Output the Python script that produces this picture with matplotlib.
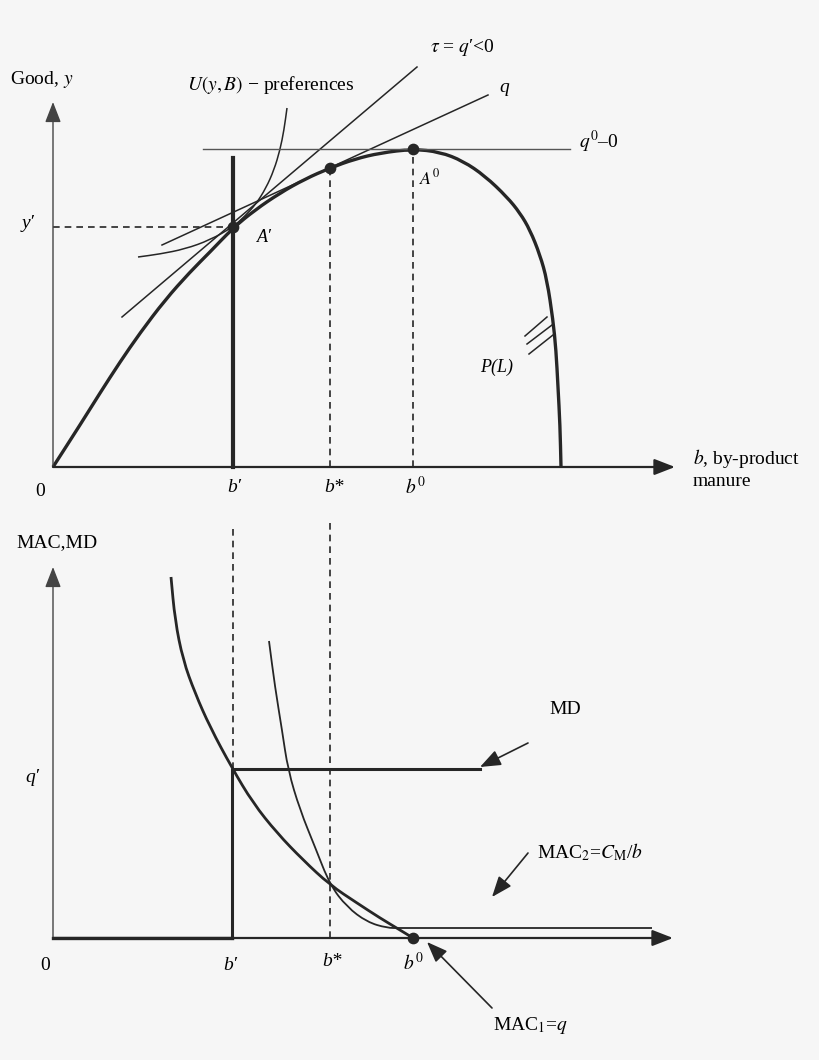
import matplotlib
matplotlib.use("Agg")
import matplotlib.pyplot as plt
from matplotlib.path import Path
from matplotlib.patches import PathPatch

plt.rcParams["font.family"] = ["Liberation Serif", "DejaVu Serif"]
plt.rcParams["mathtext.fontset"] = "stix"

INK = "#262626"
BG = "#f6f6f6"

# ---- top panel: production frontier P(L) (b = by-product, y = good) ----
pl_b = [0, 27, 47, 67, 87, 112, 137, 157, 180, 202, 227, 252, 277, 302, 327, 360,
        387, 410, 432, 454, 467, 477, 487, 494, 500, 503, 505, 507, 508]
pl_y = [0, 42, 74, 105, 134, 167, 195, 215, 239, 257, 274, 288, 299, 308, 314, 318,
        315, 306, 291, 270, 254, 237, 212, 187, 147, 117, 80, 42, 0]

# indifference curve U(y,B)
u_b = [85, 107, 132, 157, 180, 192, 203, 213, 221, 227, 231, 234]
u_y = [210, 213, 218, 227, 240, 251, 263, 279, 297, 317, 337, 359]

# price lines
tau_b, tau_y = [69, 364], [150, 400]
q_b, q_y = [109, 435], [222, 372]
q0_b, q0_y = [150, 517], [318, 318]

# points A', b*, A0
pts_b = [180, 277, 360]
pts_y = [240, 299, 318]

# ---- bottom panel: marginal abatement cost / marginal damage ----
mac1_b = [118, 122, 130, 142, 157, 179, 200, 224, 250, 277, 304, 327, 347, 360]
mac1_y = [361, 318, 278, 245, 211, 170, 135, 105, 78, 53, 35, 20, 8, 0]
mac2_b = [216, 222, 229, 235, 247, 262, 277, 294, 314, 334, 347, 599]
mac2_y = [297, 251, 208, 168, 128, 91, 53, 31, 16, 10, 10, 10]
md_b = [179, 179, 427]
md_y = [0, 169, 169]
q_prime = 169


def smooth(ax, xs, ys, **kw):
    # quadratic B-spline through the read points, drawn as a path
    pts = list(zip(xs, ys))
    verts = [pts[0]]
    codes = [Path.MOVETO]
    mids = [((a[0] + b[0]) / 2, (a[1] + b[1]) / 2) for a, b in zip(pts[:-1], pts[1:])]
    verts.append(mids[0])
    codes.append(Path.LINETO)
    for i in range(1, len(pts) - 1):
        verts += [pts[i], mids[i]]
        codes += [Path.CURVE3, Path.CURVE3]
    verts.append(pts[-1])
    codes.append(Path.LINETO)
    ax.add_patch(PathPatch(Path(verts, codes), facecolor="none", edgecolor=INK,
                           capstyle="butt", joinstyle="round", **kw))


fig = plt.figure(figsize=(8.2, 10.6), dpi=100)
fig.patch.set_facecolor(BG)

top = fig.add_axes([0, 1 - 510 / 1060, 1, 510 / 1060])
bot = fig.add_axes([0, 0, 1, 550 / 1060])
top.set_xlim(-53, 767)
top.set_ylim(-43, 467)
bot.set_xlim(-53, 767)
bot.set_ylim(-122, 428)
for ax in (top, bot):
    ax.axis("off")
    ax.set_facecolor(BG)

fs = 14
ital = dict(fontsize=fs, ha="center", va="center", style="italic")
head = "-|>,head_length=0.9,head_width=0.35"


def arrow_axis(ax, x0, y0, x1, y1, lw, color):
    ax.annotate("", xy=(x1, y1), xytext=(x0, y0),
                arrowprops=dict(arrowstyle=head, color=color, lw=lw, mutation_scale=14,
                                shrinkA=0, shrinkB=0),
                annotation_clip=False)


# top axes
arrow_axis(top, 0, 0, 0, 365, 1.0, "#444444")
arrow_axis(top, 0, 0, 622, 0, 1.6, INK)

smooth(top, pl_b, pl_y, lw=2.4)
smooth(top, u_b, u_y, lw=1.1)
top.plot(tau_b, tau_y, color=INK, lw=1.1)
top.plot(q_b, q_y, color=INK, lw=1.1)
top.plot(q0_b, q0_y, color="#555555", lw=1.0)
top.plot([pts_b[0], pts_b[0]], [0, 309], color=INK, lw=3.0)
top.plot([0, pts_b[0]], [pts_y[0], pts_y[0]], color=INK, lw=1.2, ls=(0, (4, 3)))
for b, y in zip(pts_b[1:], pts_y[1:]):
    top.plot([b, b], [0, y], color=INK, lw=1.2, ls=(0, (4, 3)))
top.scatter(pts_b, pts_y, s=55, color=INK, zorder=5)

# hatch marks on P(L)
for (x0, y0, x1, y1) in [(472, 131, 494, 150), (474, 123, 499, 142), (476, 113, 500, 132)]:
    top.plot([x0, x1], [y0, y1], color=INK, lw=1.1)

top.text(-11, 387, "Good, $y$", fontsize=fs, ha="center", va="center")
top.text(218, 382, "$U(y,B)$ \u2212 preferences", fontsize=fs, ha="center", va="center")
top.text(409, 419, "$\\tau$ = $q$\u2032<0", fontsize=fs, ha="center", va="center")
top.text(451, 380, "q", **ital)
top.text(546, 325, "$q^0$\u20130", fontsize=fs, ha="center", va="center")
top.text(-25, 243, "y\u2032", **ital)
top.text(211, 229, "A\u2032", **{**ital, "fontsize": fs - 1})
top.text(377, 289, "$A^0$", fontsize=fs - 1, ha="center", va="center")
top.text(444, 100, "P(L)", **{**ital, "fontsize": fs - 1})
top.text(-13, -25, "0", fontsize=fs, ha="center", va="center")
top.text(181, -20, "b\u2032", **ital)
top.text(281, -20, "b*", **ital)
top.text(362, -20, "$b^0$", fontsize=fs, ha="center", va="center")
top.text(640, 9, "$b$, by-product", fontsize=fs, ha="left", va="center")
top.text(640, -15, "manure", fontsize=fs, ha="left", va="center")

# bottom axes
arrow_axis(bot, 0, 0, 0, 371, 1.0, "#444444")
arrow_axis(bot, 0, 0, 620, 0, 1.6, INK)
bot.plot([0, md_b[0]], [0, 0], color=INK, lw=2.4)
bot.plot(md_b, md_y, color=INK, lw=2.2)
smooth(bot, mac1_b, mac1_y, lw=2.0)
smooth(bot, mac2_b, mac2_y, lw=1.3)
bot.plot([pts_b[0], pts_b[0]], [q_prime, 413], color=INK, lw=1.2, ls=(0, (4, 3)))
bot.plot([pts_b[1], pts_b[1]], [0, 418], color=INK, lw=1.2, ls=(0, (4, 3)))
bot.scatter([pts_b[2]], [0], s=55, color=INK, zorder=5)

bot.text(4, 395, "MAC,MD", fontsize=fs, ha="center", va="center")
bot.text(-21, 160, "q\u2032", **ital)
bot.text(-8, -27, "0", fontsize=fs, ha="center", va="center")
bot.text(177, -27, "b\u2032", **ital)
bot.text(279, -24, "b*", **ital)
bot.text(360, -25, "$b^0$", fontsize=fs, ha="center", va="center")
bot.text(512, 228, "MD", fontsize=fs, ha="center", va="center")
bot.text(537, 86, r"MAC$_2$=$C_{\rm M}$/$b$", fontsize=fs, ha="center", va="center")
bot.text(477, -87, "MAC$_1$=$q$", fontsize=fs, ha="center", va="center")

pointer = dict(arrowstyle=head, color=INK, lw=1.2, mutation_scale=14,
               shrinkA=0, shrinkB=0)
bot.annotate("", xy=(427, 171), xytext=(475, 195), arrowprops=pointer)
bot.annotate("", xy=(439, 41), xytext=(475, 85), arrowprops=pointer)
bot.annotate("", xy=(374, -4), xytext=(439, -70), arrowprops=pointer)

fig.savefig("out.png", dpi=100, facecolor=BG)
